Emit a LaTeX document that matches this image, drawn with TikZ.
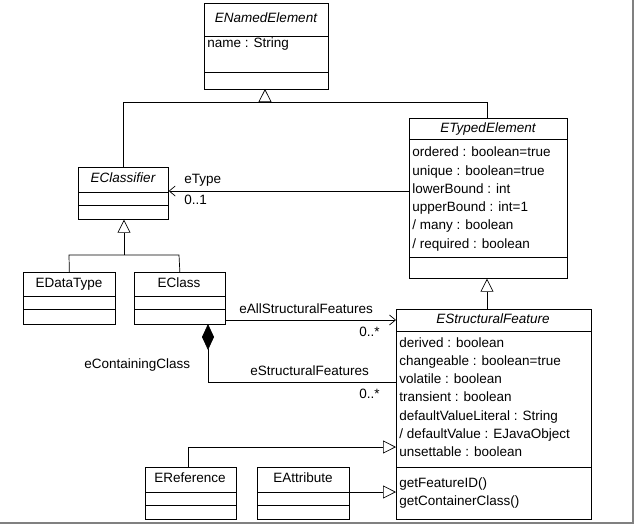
\documentclass[tikz,border=0pt]{standalone}
\usepackage{fontspec}
\setmainfont{Liberation Sans}
\usetikzlibrary{arrows.meta}
\begin{document}
\begin{tikzpicture}[x=1pt,y=-1pt,line width=0.7pt,
  box/.style={draw,anchor=north west,inner sep=0pt},
  txt/.style={anchor=west,inner sep=0pt,text height=10pt,text depth=3pt,font=\fontsize{13.5}{15}\selectfont},
  ttl/.style={anchor=center,inner sep=0pt,text height=10pt,text depth=3pt,font=\fontsize{13.5}{15}\selectfont},
  gen/.style={-{Triangle[open,length=13pt,width=13pt]}},
  nav/.style={-{Straight Barb[length=6pt,width=10pt]}},
  comp/.style={{Diamond[length=26pt,width=12pt]}-}]
\newcommand{\ubox}[5]{\node[box,minimum width=#4-#2,minimum height=#5-#3] (#1) at (#2,#3) {};}
\newcommand{\hl}[3]{\draw (#1,#3) -- (#2,#3);}
\useasboundingbox (0,0) rectangle (640,530);
\fill[white] (0,0) rectangle (640,530);
\draw[gray,line width=1.5pt] (633,0) -- (633,523) -- (0,523);
% ENamedElement
\ubox{ne}{204}{3}{328}{89}
\hl{204}{328}{36}\hl{204}{328}{72}
\node[ttl] at (266,19) {\itshape ENamedElement};
\node[txt] (ne1) at (207,44) {name : String};
% ETypedElement
\ubox{te}{409}{118}{567}{278}
\hl{409}{567}{139}\hl{409}{567}{257}
\node[ttl] at (488,129) {\itshape ETypedElement};
\node[txt] at (412,153) {ordered : boolean=true};
\node[txt] at (412,172) {unique : boolean=true};
\node[txt] at (412,190) {lowerBound : int};
\node[txt] at (412,208) {upperBound : int=1};
\node[txt] at (412,226) {/ many : boolean};
\node[txt] at (412,245) {/ required : boolean};
% EClassifier
\ubox{cl}{78}{167}{168}{219}
\hl{78}{168}{192}\hl{78}{168}{205}
\node[ttl] at (123,179) {\itshape EClassifier};
% EDataType, EClass
\ubox{dt}{23}{272}{115}{324}
\hl{23}{115}{296}\hl{23}{115}{309}
\node[ttl] at (69,284) {EDataType};
\ubox{ec}{134}{272}{225}{324}
\hl{134}{225}{296}\hl{134}{225}{309}
\node[ttl] at (179,284) {EClass};
% EStructuralFeature
\ubox{sf}{396}{309}{591}{519}
\hl{396}{591}{331}\hl{396}{591}{467}
\node[ttl] at (493,320) {\itshape EStructuralFeature};
\node[txt] at (399,344) {derived : boolean};
\node[txt] at (399,362) {changeable : boolean=true};
\node[txt] at (399,380) {volatile : boolean};
\node[txt] at (399,398) {transient : boolean};
\node[txt] at (399,417) {defaultValueLiteral : String};
\node[txt] at (399,435) {/ defaultValue : EJavaObject};
\node[txt] at (399,453) {unsettable : boolean};
\node[txt] at (399,484) {getFeatureID()};
\node[txt] at (399,502) {getContainerClass()};
% EReference, EAttribute
\ubox{er}{145}{467}{236}{519}
\hl{145}{236}{492}\hl{145}{236}{505}
\node[ttl] at (190,479) {EReference};
\ubox{ea}{257}{467}{349}{519}
\hl{257}{349}{492}\hl{257}{349}{505}
\node[ttl] at (303,479) {EAttribute};
% generalizations
\coordinate (j1) at (265,102);
\draw[gen] (j1) -- (265,89);
\draw (cl.north -| 123,0) -- (123,102) -- (487,102) -- (te.north -| 487,0);
\coordinate (j2) at (124,255);
\draw[gen] (j2) -- (cl.south -| 124,0);
\draw (dt.north) -- (69,255) -- (179,255) -- (ec.north);
\draw[gen] (sf.north -| 487,0) -- (te.south -| 487,0);
\coordinate (rs) at (396,447);
\draw[gen] (er.north -| 188,0) -- (188,447) -- (rs);
\coordinate (as) at (396,492);
\draw[gen] (ea.east |- as) -- (as);
% associations
\draw[nav] (te.west |- 0,191) -- (cl.east |- 0,191);
\node[txt] at (184,180) {eType};
\node[txt] at (184,201) {0..1};
\draw[nav] (ec.east |- 0,320) -- (sf.west |- 0,320);
\node[txt] at (239,310) {eAllStructuralFeatures};
\node[txt] at (359,333) {0..*};
\draw[comp] (208,324) -- (208,382) -- (sf.west |- 0,382);
\node[txt] at (84,365) {eContainingClass};
\node[txt] at (250,372) {eStructuralFeatures};
\node[txt] at (359,395) {0..*};
\end{tikzpicture}
\end{document}
